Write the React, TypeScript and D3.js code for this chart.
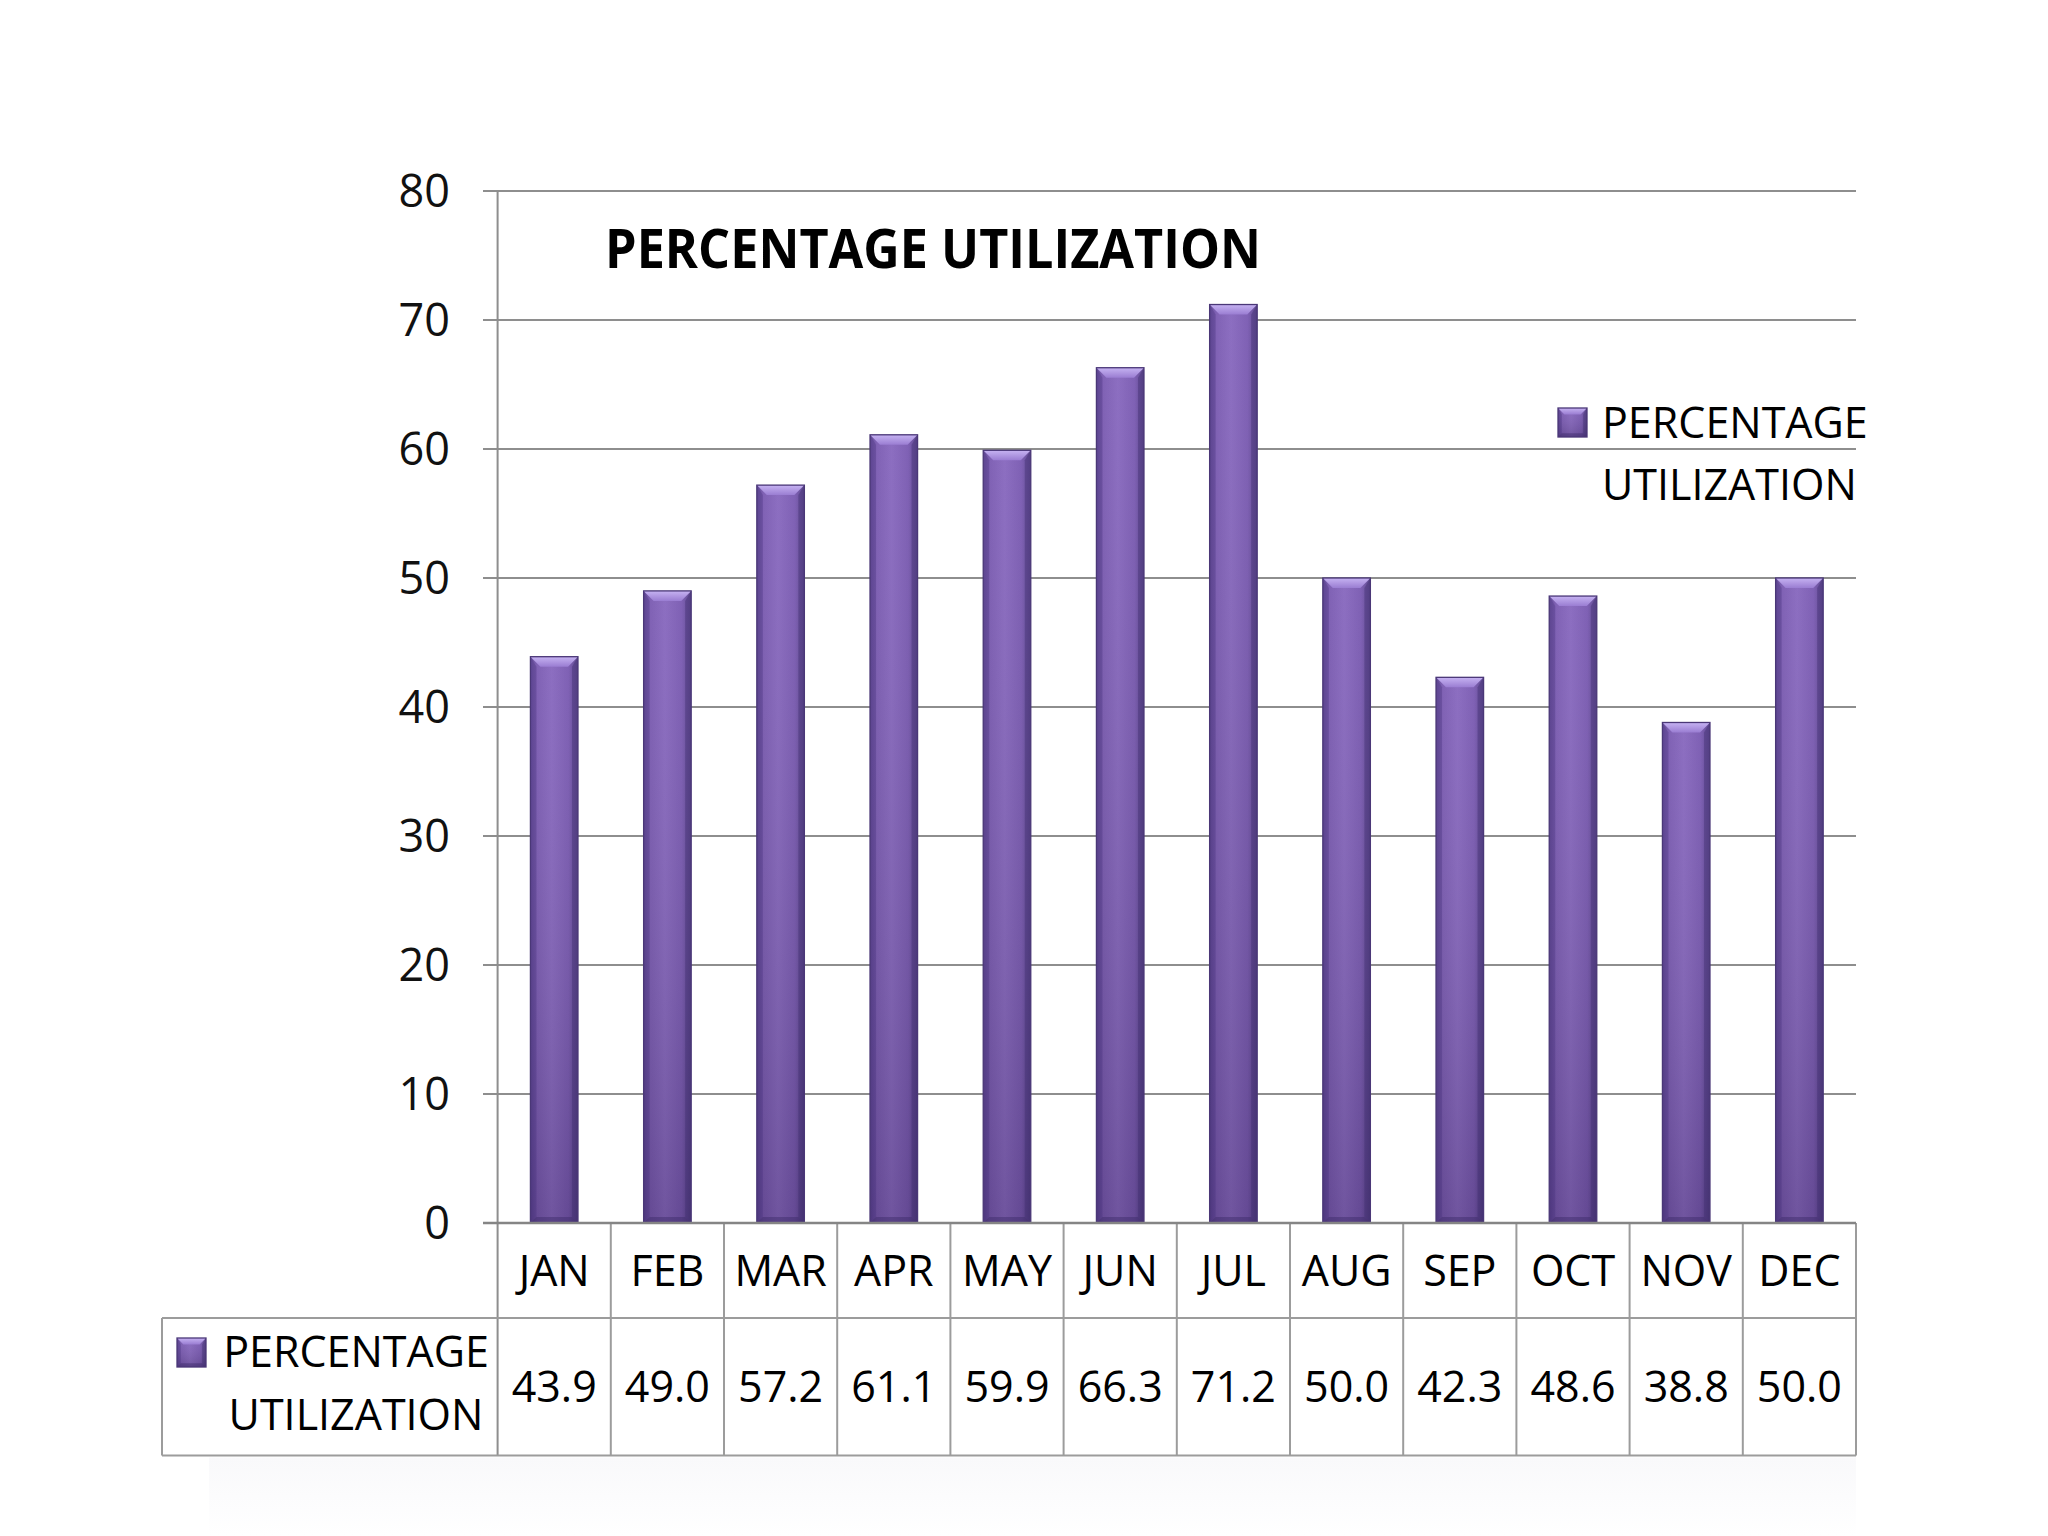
import * as d3 from "d3";

// chart data
const months = ["JAN", "FEB", "MAR", "APR", "MAY", "JUN", "JUL", "AUG", "SEP", "OCT", "NOV", "DEC"];
const utilization = [43.9, 49.0, 57.2, 61.1, 59.9, 66.3, 71.2, 50.0, 42.3, 48.6, 38.8, 50.0];
const yTicks = [0, 10, 20, 30, 40, 50, 60, 70, 80];
const seriesName = ["PERCENTAGE", "UTILIZATION"];
const chartTitle = "PERCENTAGE UTILIZATION";

const W = 2048;
const H = 1536;
const FONT = "'Open Sans', 'DejaVu Sans', sans-serif";
const GRID = "#8e8e8e";
const TABLE = "#9c9c9c";

function BevelBar({ x, y, w, h }: { x: number; y: number; w: number; h: number }) {
  const b = Math.min(10, w * 0.22, h / 2);
  return (
    <g>
      <rect x={x} y={y} width={w} height={h} fill="url(#barBody)" />
      <rect x={x} y={y} width={w} height={h} fill="url(#barShade)" />
      {/* top bevel */}
      <path
        d={`M${x},${y}L${x + w},${y}L${x + w - b},${y + b}L${x + b},${y + b}Z`}
        fill="url(#barTop)"
      />
      {/* side bevels */}
      <path
        d={`M${x},${y}L${x + b * 0.6},${y + b}L${x + b * 0.6},${y + h - b * 0.6}L${x},${y + h}Z`}
        fill="#4a3580"
        opacity={0.35}
      />
      <path
        d={`M${x + w},${y}L${x + w - b * 0.6},${y + b}L${x + w - b * 0.6},${y + h - b * 0.6}L${x + w},${y + h}Z`}
        fill="#3e2c6e"
        opacity={0.4}
      />
      <path
        d={`M${x},${y + h}L${x + b * 0.6},${y + h - b * 0.6}L${x + w - b * 0.6},${y + h - b * 0.6}L${x + w},${y + h}Z`}
        fill="#3b2a68"
        opacity={0.45}
      />
      <rect x={x} y={y} width={w} height={h} fill="none" stroke="#4a3777" strokeWidth={1.3} />
    </g>
  );
}

export default function App() {
  const x = d3.scaleBand<string>().domain(months).range([497.6, 1856]).paddingInner(0.58).paddingOuter(0.29);
  const y = d3.scaleLinear().domain([0, 80]).range([1223, 191]);

  const step = x.step();
  const cellLeft = (m: string) => (x(m) as number) - (step - x.bandwidth()) / 2;
  const [x0, x1] = x.range();
  const y0 = y(0);

  const catTop = y0;
  const catBottom = 1318;
  const valBottom = 1455.5;
  const tableLeft = 162;

  return (
    <div style={{ position: "absolute", left: 0, top: 0 }}>
      <svg width={W} height={H} viewBox={`0 0 ${W} ${H}`} style={{ display: "block", background: "#fff" }}>
        <defs>
          <linearGradient id="barBody" x1="0" x2="1" y1="0" y2="0">
            <stop offset="0%" stopColor="#5e4494" />
            <stop offset="14%" stopColor="#7858b0" />
            <stop offset="45%" stopColor="#8565bd" />
            <stop offset="80%" stopColor="#7757b0" />
            <stop offset="100%" stopColor="#57408a" />
          </linearGradient>
          <linearGradient id="barShade" x1="0" x2="0" y1="0" y2="1">
            <stop offset="0%" stopColor="#ffffff" stopOpacity={0.06} />
            <stop offset="100%" stopColor="#000000" stopOpacity={0.16} />
          </linearGradient>
          <linearGradient id="barTop" x1="0" x2="0" y1="0" y2="1">
            <stop offset="0%" stopColor="#c6b3f2" />
            <stop offset="100%" stopColor="#9a7dd2" />
          </linearGradient>
          <linearGradient id="tableShadow" x1="0" x2="0" y1="0" y2="1">
            <stop offset="0%" stopColor="#f9f9fb" />
            <stop offset="100%" stopColor="#ffffff" />
          </linearGradient>
        </defs>

        {/* faint shadow under the table */}
        <rect x={209} y={valBottom + 2} width={x1 - 209} height={H - valBottom - 2} fill="url(#tableShadow)" />

        {/* gridlines and y ticks */}
        {yTicks.map((t) => (
          <g key={t}>
            <line x1={483} x2={x1} y1={y(t)} y2={y(t)} stroke={GRID} strokeWidth={2} />
            <text
              x={450}
              y={y(t)}
              dy="0.36em"
              textAnchor="end"
              fontFamily={FONT}
              fontSize={45}
              fill="#111"
            >
              {t}
            </text>
          </g>
        ))}

        {/* y axis */}
        <line x1={x0} x2={x0} y1={y(80)} y2={valBottom} stroke={GRID} strokeWidth={2} />

        {/* title */}
        <text
          x={605}
          y={268}
          fontFamily={FONT}
          fontWeight={700}
          fontSize={53}
          textLength={656}
          lengthAdjust="spacingAndGlyphs"
          fill="#000"
        >
          {chartTitle}
        </text>

        {/* bars */}
        {months.map((m, i) => (
          <BevelBar
            key={m}
            x={x(m) as number}
            y={y(utilization[i])}
            w={x.bandwidth()}
            h={y0 - y(utilization[i])}
          />
        ))}

        {/* legend */}
        <BevelBar x={1558} y={408} w={29} h={29} />
        {seriesName.map((s, i) => (
          <text key={s} x={1602} y={437.5 + i * 62.5} fontFamily={FONT} fontSize={43} fill="#000">
            {s}
          </text>
        ))}

        {/* data table */}
        <line x1={tableLeft} x2={x1} y1={catBottom} y2={catBottom} stroke={TABLE} strokeWidth={2} />
        <line x1={tableLeft} x2={x1} y1={valBottom} y2={valBottom} stroke={TABLE} strokeWidth={2} />
        <line x1={tableLeft} x2={tableLeft} y1={catBottom} y2={valBottom} stroke={TABLE} strokeWidth={2} />
        {months.map((m) => (
          <line
            key={m}
            x1={cellLeft(m) + step}
            x2={cellLeft(m) + step}
            y1={catTop}
            y2={valBottom}
            stroke={TABLE}
            strokeWidth={2}
          />
        ))}
        {months.map((m) => (
          <text
            key={m}
            x={(x(m) as number) + x.bandwidth() / 2}
            y={1286}
            textAnchor="middle"
            fontFamily={FONT}
            fontSize={43}
            fill="#000"
          >
            {m}
          </text>
        ))}
        {months.map((m, i) => (
          <text
            key={m}
            x={(x(m) as number) + x.bandwidth() / 2}
            y={1402}
            textAnchor="middle"
            fontFamily={FONT}
            fontSize={43}
            fill="#000"
          >
            {utilization[i].toFixed(1)}
          </text>
        ))}
        <BevelBar x={177} y={1338} w={29} h={29} />
        {seriesName.map((s, i) => (
          <text key={s} x={356} y={1367 + i * 63} textAnchor="middle" fontFamily={FONT} fontSize={43} fill="#000">
            {s}
          </text>
        ))}

        {/* x axis */}
        <line x1={483} x2={x1} y1={y0} y2={y0} stroke="#858585" strokeWidth={2.5} />
      </svg>
    </div>
  );
}
